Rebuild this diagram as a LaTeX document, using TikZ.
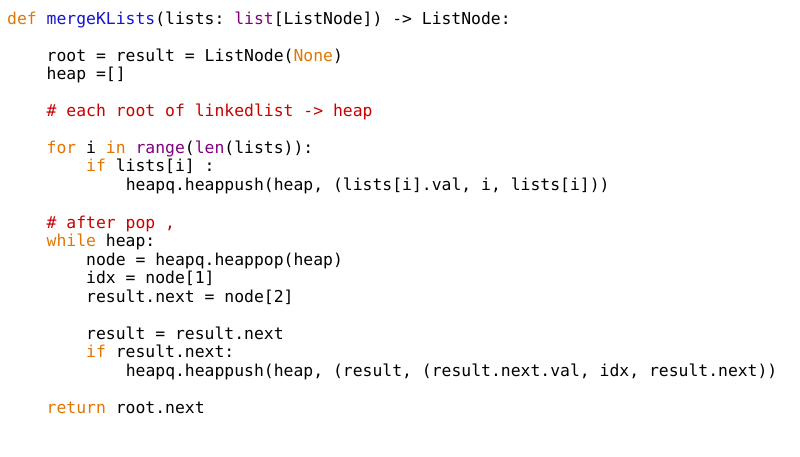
\documentclass[tikz,border=0pt]{standalone}
\usepackage{fontspec}
\setmonofont{DejaVu Sans Mono}
\definecolor{kw}{RGB}{226,118,0}
\definecolor{fn}{RGB}{20,20,210}
\definecolor{bi}{RGB}{128,0,128}
\definecolor{cm}{RGB}{200,0,0}
\newcommand{\K}[1]{\textcolor{kw}{#1}}
\newcommand{\F}[1]{\textcolor{fn}{#1}}
\newcommand{\B}[1]{\textcolor{bi}{#1}}
\newcommand{\C}[1]{\textcolor{cm}{#1}}
\begin{document}
\begin{tikzpicture}[x=1pt,y=-1pt,
  code/.style={anchor=base west,inner sep=0pt,font=\ttfamily\fontsize{16.4}{18}\selectfont}]
\useasboundingbox[fill=white] (0,0) rectangle (800,457);
\def\cw{9.88}
\node[code] (l1) at (7,25) {\K{def} \F{mergeKLists}(lists: \B{list}[ListNode]) -> ListNode:};
\node[code] (l2) at (7+4*\cw,62) {root = result = ListNode(\K{None})};
\node[code] (l3) at (7+4*\cw,80) {heap =[]};
\node[code] (l4) at (7+4*\cw,117) {\C{\# each root of linkedlist -> heap}};
\node[code] (l5) at (7+4*\cw,154) {\K{for} i \K{in} \B{range}(\B{len}(lists)):};
\node[code] (l6) at (7+8*\cw,172) {\K{if} lists[i] :};
\node[code] (l7) at (7+12*\cw,191) {heapq.heappush(heap, (lists[i].val, i, lists[i]))};
\node[code] (l8) at (7+4*\cw,228) {\C{\# after pop ,}};
\node[code] (l9) at (7+4*\cw,246) {\K{while} heap:};
\node[code] (l10) at (7+8*\cw,265) {node = heapq.heappop(heap)};
\node[code] (l11) at (7+8*\cw,283) {idx = node[1]};
\node[code] (l12) at (7+8*\cw,302) {result.next = node[2]};
\node[code] (l13) at (7+8*\cw,339) {result = result.next};
\node[code] (l14) at (7+8*\cw,357) {\K{if} result.next:};
\node[code] (l15) at (7+12*\cw,376) {heapq.heappush(heap, (result, (result.next.val, idx, result.next))};
\node[code] (l16) at (7+4*\cw,413) {\K{return} root.next};
\end{tikzpicture}
\end{document}
